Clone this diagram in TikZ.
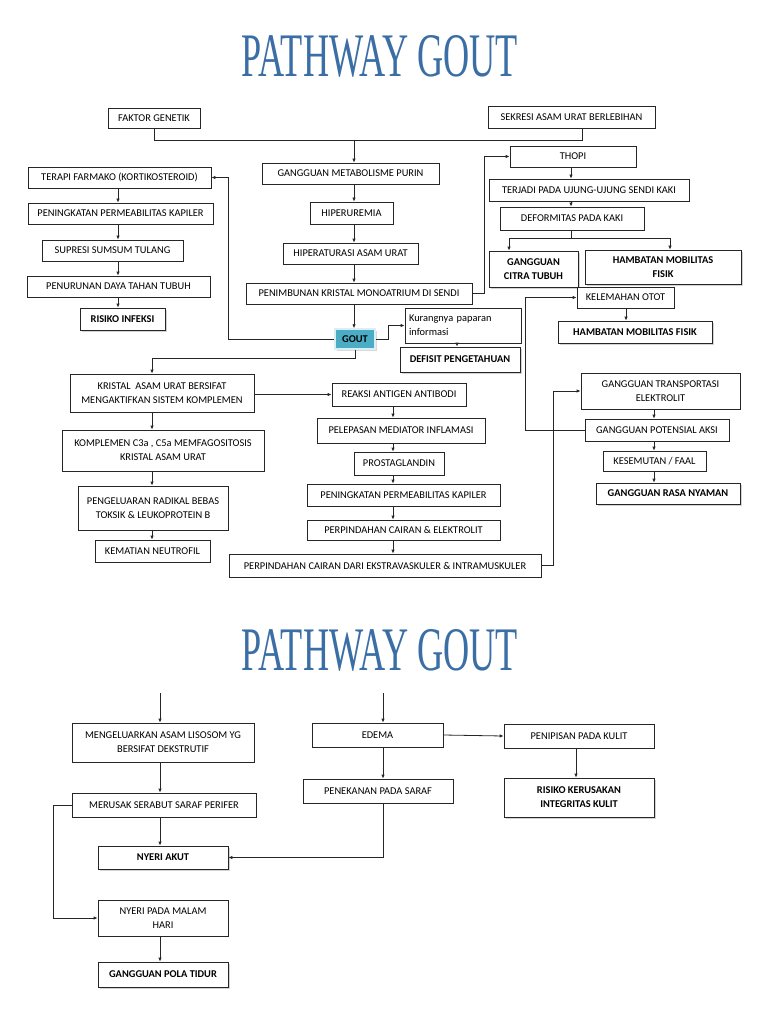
\documentclass[tikz,border=0pt]{standalone}
\usepackage{fontspec}
\setmainfont{Carlito}
\newfontfamily\titlefont{Liberation Serif}
\usetikzlibrary{arrows.meta,shadows}
\definecolor{tblue}{HTML}{3A6EA5}
\definecolor{goutc}{HTML}{4BACC6}
\tikzset{
 bx/.style={draw=black!85,line width=0.8pt,inner sep=1pt,align=center,font=\fontsize{10.4}{14}\selectfont},
 bb/.style={fill=white,font=\fontsize{10.4}{14}\selectfont\bfseries,drop shadow={opacity=0.35,shadow xshift=1.5pt,shadow yshift=-1.5pt}},
 arr/.style={draw=black!85,line width=0.8pt,-{Latex[length=4pt,width=3.5pt]}},
 ln/.style={draw=black!85,line width=0.8pt}
}
\newcommand\bx[7][]{\node[bx,#1,minimum width={(#4-#2)*1pt},minimum height={(#5-#3)*1pt}] (#6) at ({(#2+#4)/2},{(#3+#5)/2}) {#7};}
\newcommand\dn[3]{\draw[arr] (#1,0|-#2.south) -- (#1,0|-#3.north);}
\begin{document}
\begin{tikzpicture}[x=1pt,y=-1pt]
\useasboundingbox (0,0) rectangle (768,1024);
% titles
\foreach \ty/\nm in {56/t1,650/t2}{
 \node[text=tblue] (\nm) at (380,\ty) {\resizebox{276pt}{41pt}{\titlefont PATHWAY GOUT}};
}
% top
\bx{108}{108}{200}{128}{fg}{FAKTOR GENETIK}
\bx{488}{106}{655}{128}{sek}{SEKRESI ASAM URAT BERLEBIHAN}
\bx{262}{163}{439}{184}{gmp}{GANGGUAN METABOLISME PURIN}
\bx{310}{202}{393}{224}{hip}{HIPERUREMIA}
\bx{283}{243}{418}{264}{hipa}{HIPERATURASI ASAM URAT}
\bx{246}{283}{472}{304}{pen}{PENIMBUNAN KRISTAL MONOATRIUM DI SENDI}
\bx[fill=goutc,draw=white!80!goutc,line width=1.5pt,font=\fontsize{10.4}{12}\selectfont\bfseries,drop shadow={opacity=0.3,shadow xshift=1.5pt,shadow yshift=-1.5pt}]{335}{329}{375}{349}{gout}{GOUT}
% left
\bx{28}{167}{211}{188}{ter}{TERAPI FARMAKO (KORTIKOSTEROID)}
\bx{28}{203}{213}{224}{pk1}{PENINGKATAN PERMEABILITAS KAPILER}
\bx{42}{240}{183}{261}{sup}{SUPRESI SUMSUM TULANG}
\bx{27}{276}{210}{297}{pdt}{PENURUNAN DAYA TAHAN TUBUH}
\bx[bb]{80}{308}{165}{330}{ri}{RISIKO INFEKSI}
% right top
\bx{510}{146}{636}{167}{tho}{THOPI}
\bx{489}{179}{689}{201}{ter2}{TERJADI PADA UJUNG-UJUNG SENDI KAKI}
\bx{500}{207}{644}{230}{def}{DEFORMITAS PADA KAKI}
\bx[bb]{489}{251}{578}{287}{gct}{GANGGUAN\\CITRA TUBUH}
\bx[bb]{585}{250}{741}{284}{hm1}{HAMBATAN MOBILITAS\\FISIK}
\bx[fill=white]{577}{287}{674}{308}{kel}{KELEMAHAN OTOT}
\bx[bb]{558}{321}{712}{343}{hm2}{HAMBATAN MOBILITAS FISIK}
\bx[align=left,text width=108pt]{405}{308}{521}{343}{kur}{Kurangnya paparan\\informasi}
\bx[bb]{400}{347}{520}{372}{dfs}{DEFISIT PENGETAHUAN}
% middle lower
\bx{70}{374}{254}{412}{kri}{KRISTAL\ \ ASAM URAT BERSIFAT\\MENGAKTIFKAN SISTEM KOMPLEMEN}
\bx{62}{430}{264}{471}{kom}{KOMPLEMEN C3a , C5a MEMFAGOSITOSIS\\KRISTAL ASAM URAT}
\bx{78}{486}{228}{530}{pra}{PENGELUARAN RADIKAL BEBAS\\TOKSIK \& LEUKOPROTEIN B}
\bx{95}{540}{210}{562}{kem}{KEMATIAN NEUTROFIL}
\bx{332}{383}{466}{406}{rea}{REAKSI ANTIGEN ANTIBODI}
\bx{317}{418}{485}{443}{pel}{PELEPASAN MEDIATOR INFLAMASI}
\bx{354}{452}{444}{475}{pro}{PROSTAGLANDIN}
\bx{307}{484}{500}{506}{pk2}{PENINGKATAN PERMEABILITAS KAPILER}
\bx{307}{520}{500}{540}{pce}{PERPINDAHAN CAIRAN \& ELEKTROLIT}
\bx{229}{554}{541}{577}{pcd}{PERPINDAHAN CAIRAN DARI EKSTRAVASKULER \& INTRAMUSKULER}
% right lower
\bx{581}{373}{740}{409}{gte}{GANGGUAN TRANSPORTASI\\ELEKTROLIT}
\bx{585}{419}{729}{441}{gpa}{GANGGUAN POTENSIAL AKSI}
\bx{603}{451}{706}{471}{kes}{KESEMUTAN / FAAL}
\bx[bb]{596}{483}{740}{504}{grn}{GANGGUAN RASA NYAMAN}
% bottom part
\bx{72}{723}{254}{762}{mal}{MENGELUARKAN ASAM LISOSOM YG\\BERSIFAT DEKSTRUTIF}
\bx{312}{723}{443}{747}{ede}{EDEMA}
\bx{504}{724}{654}{748}{pkl}{PENIPISAN PADA KULIT}
\bx{72}{793}{256}{817}{mss}{MERUSAK SERABUT SARAF PERIFER}
\bx{303}{779}{453}{803}{pps}{PENEKANAN PADA SARAF}
\bx[bb]{504}{778}{654}{817}{rkk}{RISIKO KERUSAKAN\\INTEGRITAS KULIT}
\bx[bb]{98}{846}{228}{869}{nak}{NYERI AKUT}
\bx{98}{900}{228}{936}{nmh}{NYERI PADA MALAM\\HARI}
\bx[bb]{98}{962}{228}{987}{gpt}{GANGGUAN POLA TIDUR}
% connectors top
\coordinate (j) at (354,140);
\draw[ln] (fg.south) |- (j);
\draw[ln] (582,0|-sek.south) |- (j);
\draw[arr] (j) -- (354,0|-gmp.north);
\dn{354}{gmp}{hip}
\dn{354}{hip}{hipa}
\dn{354}{hipa}{pen}
\dn{354}{pen}{gout}
\draw[arr] (pen.east) -- (484,0|-pen.east) |- (tho.west);
\dn{571}{tho}{ter2}
\dn{571}{ter2}{def}
\coordinate (dj) at (571,238);
\draw[ln] (def.south-|dj) -- (dj);
\draw[ln] (509,0|-dj) -- (670,0|-dj);
\draw[arr] (509,0|-dj) -- (509,0|-gct.north);
\draw[arr] (670,0|-dj) -- (670,0|-hm1.north);
\draw[arr] (gout.west) -- (228,0|-gout.west) |- (ter.east);
\dn{118}{ter}{pk1}
\dn{118}{pk1}{sup}
\dn{118}{sup}{pdt}
\dn{118}{pdt}{ri}
\draw[arr] (gout.east) -- (388,0|-gout.east) |- (kur.west);
\dn{457}{kur}{dfs}
\draw[arr] (gout.south) -- (355,358) -| (152,0|-kri.north);
\dn{152}{kri}{kom}
\dn{152}{kom}{pra}
\dn{152}{pra}{kem}
\draw[arr] (kri.east|-rea.west) -- (rea.west);
\dn{393}{rea}{pel}
\dn{393}{pel}{pro}
\dn{393}{pro}{pk2}
\dn{393}{pk2}{pce}
\dn{393}{pce}{pcd}
\draw[arr] (pcd.east) -- (553,0|-pcd.east) |- (gte.west);
\dn{654}{gte}{gpa}
\dn{654}{gpa}{kes}
\dn{654}{kes}{grn}
\draw[arr] (gpa.west) -- (525,0|-gpa.west) |- (kel.west);
\dn{626}{kel}{hm2}
% bottom connectors
\coordinate (ta) at (160,693);
\coordinate (tb) at (383,693);
\draw[arr] (ta) -- (160,0|-mal.north);
\draw[arr] (tb) -- (383,0|-ede.north);
\dn{160}{mal}{mss}
\dn{160}{mss}{nak}
\draw[arr] (ede.east) -- (pkl.west);
\dn{383}{ede}{pps}
\dn{576}{pkl}{rkk}
\draw[arr] (383,0|-pps.south) |- (nak.east);
\draw[arr] (mss.west) -- (53,0|-mss.west) |- (nmh.west);
\dn{160}{nmh}{gpt}
\end{tikzpicture}
\end{document}
